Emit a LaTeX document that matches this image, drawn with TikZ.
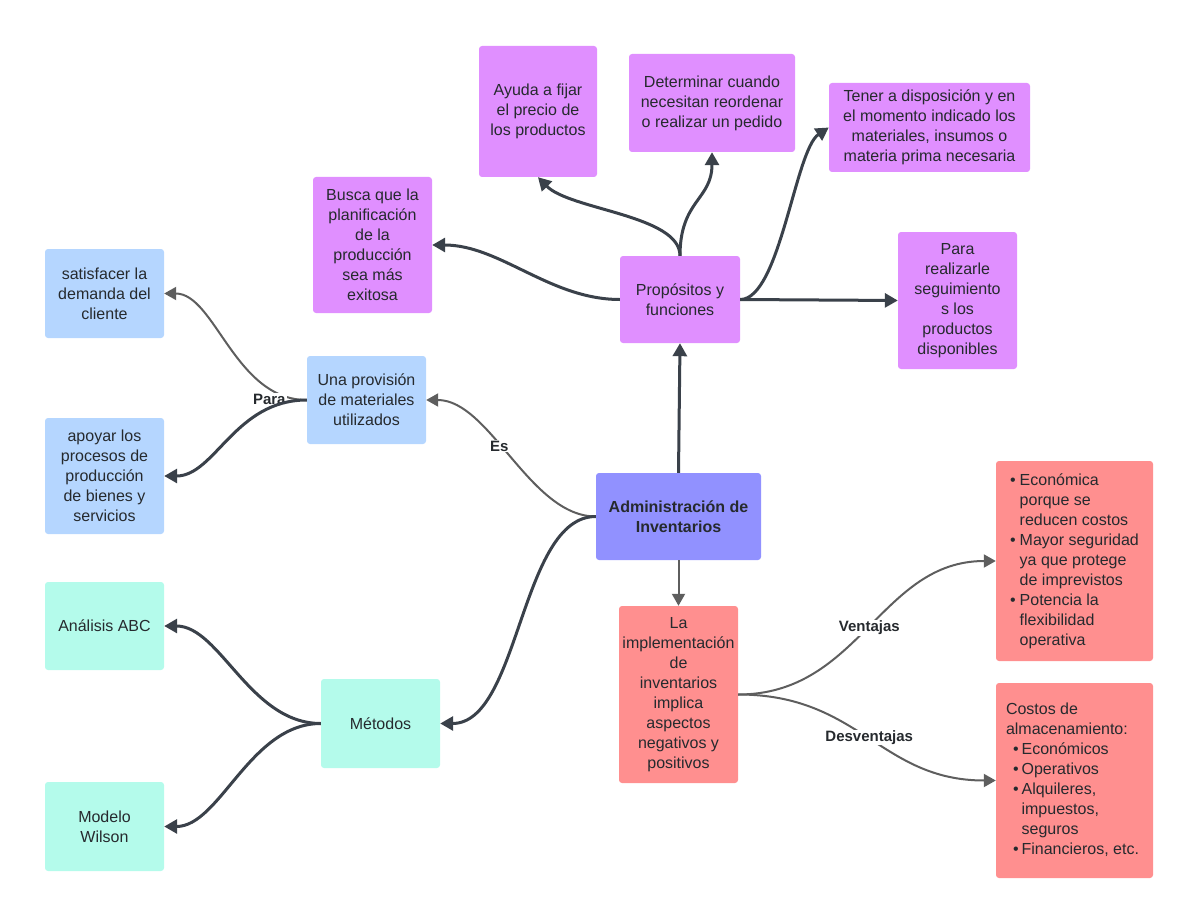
\documentclass[tikz,border=0pt]{standalone}
\usepackage{fontspec}
\setmainfont{Liberation Sans}
\usetikzlibrary{arrows.meta}
\definecolor{txt}{HTML}{262A2E}
\definecolor{purp}{HTML}{E08FFF}
\definecolor{sky}{HTML}{B5D6FF}
\definecolor{mint}{HTML}{B4FBEB}
\definecolor{salmon}{HTML}{FF8F8F}
\definecolor{lila}{HTML}{9191FF}
\definecolor{dark}{HTML}{3A414A}
\definecolor{grey}{HTML}{5E5E5E}
\begin{document}
\begin{tikzpicture}[x=1pt,y=-1pt,
        box/.style={rounded corners=3pt, text=txt, align=center, inner sep=0pt,
            font=\fontsize{16}{20}\selectfont},
        purpbox/.style={box, fill=purp},
        skybox/.style={box, fill=sky},
        mintbox/.style={box, fill=mint},
        redbox/.style={box, fill=salmon},
        darkarrow/.style={draw=dark, line width=3pt, -{Triangle[length=13pt,width=14pt]}},
        greyarrow/.style={draw=grey, line width=2pt, -{Triangle[length=12pt,width=13pt]}},
        lbl/.style={fill=white, text=txt, inner sep=1pt, font=\bfseries\fontsize{15}{18}\selectfont}]
    \useasboundingbox (0,0) rectangle (1200,923);
    \node[purpbox, minimum width=118, minimum height=131] (ayuda) at (538,111.5)
        {Ayuda a fijar\\el precio de\\los productos};
    \node[purpbox, minimum width=166, minimum height=98] (determinar) at (712,103)
        {Determinar cuando\\necesitan reordenar\\o realizar un pedido};
    \node[purpbox, minimum width=201, minimum height=89] (tener) at (929.5,127.5)
        {Tener a disposición y en\\el momento indicado los\\materiales, insumos o\\materia prima necesaria};
    \node[purpbox, minimum width=119, minimum height=136] (busca) at (372.5,245)
        {Busca que la\\planificación\\de la\\producción\\sea más\\exitosa};
    \node[purpbox, minimum width=120, minimum height=87] (prop) at (680,299.5)
        {Propósitos y\\funciones};
    \node[purpbox, minimum width=119, minimum height=137] (realizar) at (957.5,300.5)
        {Para\\realizarle\\seguimiento\\s los\\productos\\disponibles};
    \node[skybox, minimum width=119, minimum height=89] (satisf) at (104.5,293.5)
        {satisfacer la\\demanda del\\cliente};
    \node[skybox, minimum width=119, minimum height=88] (prov) at (366.5,400)
        {Una provisión\\de materiales\\utilizados};
    \node[skybox, minimum width=119, minimum height=116] (apoyar) at (104.5,476)
        {apoyar los\\procesos de\\producción\\de bienes y\\servicios};
    \node[box, fill=lila, minimum width=165, minimum height=87, font=\bfseries\fontsize{16}{20}\selectfont]
        (admin) at (678.5,516.5) {Administración de\\Inventarios};
    \node[redbox, minimum width=119, minimum height=177] (impl) at (678.5,694.5)
        {La\\implementación\\de\\inventarios\\implica\\aspectos\\negativos y\\positivos};
    \node[redbox, minimum width=157, minimum height=200] (vent) at (1074.5,561)
        {\begin{tabular}{@{}c@{\hspace{4pt}}l@{}}
            \textbullet & Económica\\ & porque se\\ & reducen costos\\
            \textbullet & Mayor seguridad\\ & ya que protege\\ & de imprevistos\\
            \textbullet & Potencia la\\ & flexibilidad\\ & operativa
        \end{tabular}};
    \node[redbox, minimum width=157, minimum height=195] (desv) at (1074.5,780.5)
        {\begin{tabular}{@{\hspace{7pt}}c@{\hspace{3pt}}l@{\hspace{4pt}}}
            \multicolumn{2}{@{}l@{}}{Costos de}\\
            \multicolumn{2}{@{}l@{}}{almacenamiento:}\\
            \textbullet & Económicos\\
            \textbullet & Operativos\\
            \textbullet & Alquileres,\\ & impuestos,\\ & seguros\\
            \textbullet & Financieros, etc.
        \end{tabular}};
    \node[mintbox, minimum width=119, minimum height=88] (abc) at (104.5,626)
        {Análisis ABC};
    \node[mintbox, minimum width=119, minimum height=89] (metodos) at (380.5,723.5)
        {Métodos};
    \node[mintbox, minimum width=119, minimum height=89] (wilson) at (104.5,826.5)
        {Modelo\\Wilson};
    \draw[darkarrow] (admin.north) -- (prop.south);
    \draw[greyarrow] (admin.south) -- (impl.north);
    \draw[greyarrow] (admin.west) .. controls (530,516.5) and (490,400) .. node[lbl, pos=0.57] {Es} (prov.east);
    \draw[darkarrow] (admin.west) .. controls (520,516.5) and (520,723.5) .. (metodos.east);
    \draw[darkarrow] (prop.west) .. controls (550,299.5) and (500,245) .. (busca.east);
    \draw[darkarrow] (prop.north) .. controls (680,215) and (570,210) .. (ayuda.south);
    \draw[darkarrow] (prop.north) .. controls (680,200) and (712,200) .. (determinar.south);
    \draw[darkarrow] (prop.east) .. controls (780,299.5) and (795,150) .. (tener.west);
    \draw[darkarrow] (prop.east) -- (realizar.west);
    \draw[greyarrow] (prov.west) .. controls (235,400) and (215,293.5) .. node[lbl, pos=0.2, yshift=-10pt] {Para} (satisf.east);
    \draw[darkarrow] (prov.west) .. controls (235,400) and (215,476) .. (apoyar.east);
    \draw[darkarrow] (metodos.west) .. controls (250,723.5) and (220,626) .. (abc.east);
    \draw[darkarrow] (metodos.west) .. controls (250,723.5) and (220,826.5) .. (wilson.east);
    \draw[greyarrow] (impl.east) .. controls (860,694.5) and (880,561) .. node[lbl] {Ventajas} (vent.west);
    \draw[greyarrow] (impl.east) .. controls (860,694.5) and (880,780.5) .. node[lbl] {Desventajas} (desv.west);
\end{tikzpicture}
\end{document}
